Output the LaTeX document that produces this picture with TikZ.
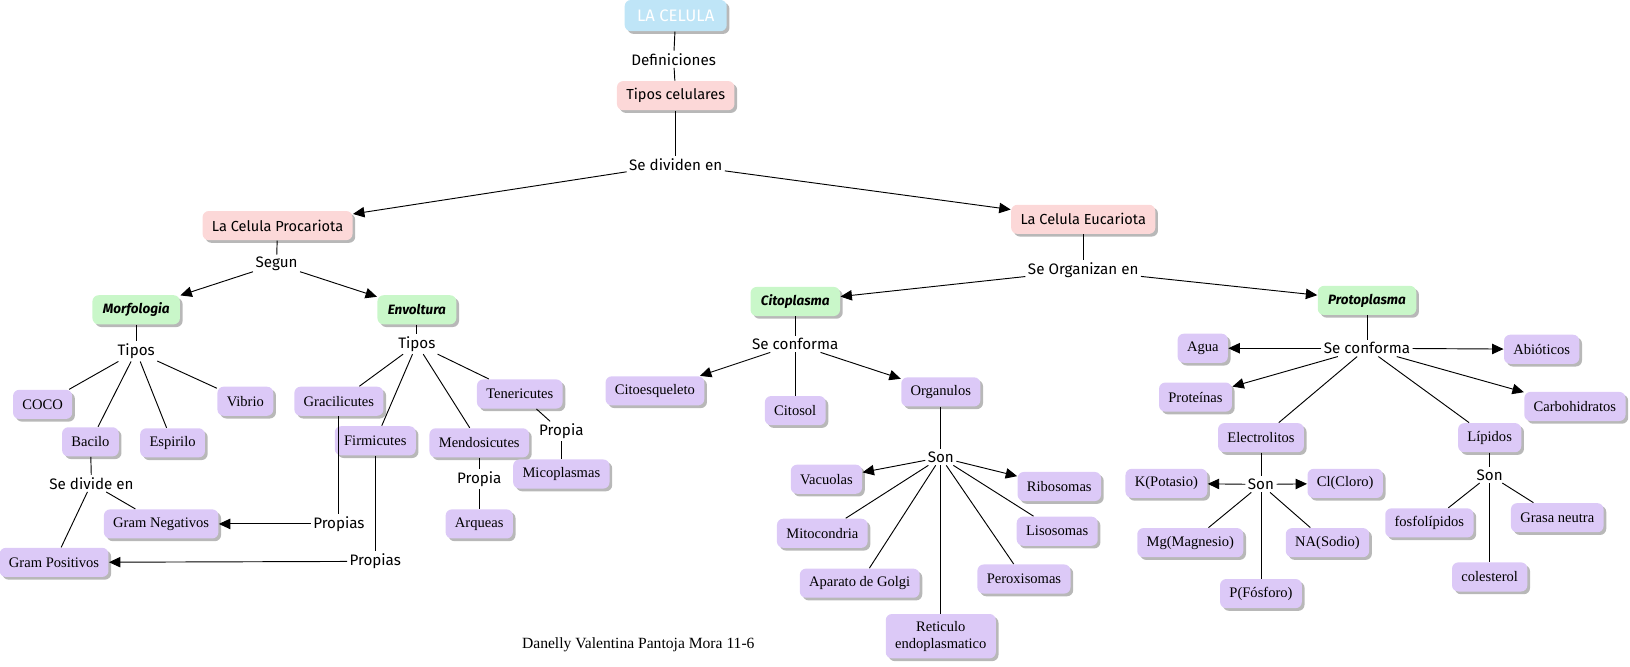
\documentclass[tikz,border=0pt]{standalone}
\usepackage{fontspec}
\setmainfont{Liberation Serif}
\newfontfamily\lblfont{Fira Sans}
\usetikzlibrary{shadows,arrows.meta}
\definecolor{cpurp}{HTML}{DCC9F7}
\definecolor{cpink}{HTML}{FCD8D8}
\definecolor{cgreen}{HTML}{C9F7C9}
\definecolor{cblue}{HTML}{BFE5F7}
\begin{document}
\begin{tikzpicture}[x=0.5pt,y=-0.5pt,
 box/.style={rounded corners=3pt,inner xsep=4.5pt,inner ysep=3.5pt,minimum height=14pt,font=\fontsize{7}{8}\selectfont,drop shadow={shadow xshift=1.3pt,shadow yshift=-1.3pt,fill=black!28,opacity=1}},
 c/.style={box,fill=cpurp,align=center},
 p/.style={box,fill=cpink,font=\lblfont\fontsize{7}{8}\selectfont},
 g/.style={box,fill=cgreen,inner xsep=5pt,font=\lblfont\bfseries\itshape\fontsize{6.5}{7}\selectfont},
 l/.style={inner sep=1pt,font=\lblfont\fontsize{7.3}{8}\selectfont},
 a/.style={-{Triangle[length=5.5pt,width=5pt]}},
 every path/.style={line width=0.45pt}]
\useasboundingbox (0,0) rectangle (1568,641);
\node[box,fill=cblue,text=white,minimum height=15pt,inner xsep=6pt,font=\lblfont\fontsize{8}{9}\selectfont] (cel) at (650,15) {LA CELULA};
\node[l] (def) at (648,57) {Definiciones};
\node[p] (tc) at (650,92) {Tipos celulares};
\node[l] (sd) at (650,158) {Se dividen en};
\node[p] (pro) at (267,217) {La Celula Procariota};
\node[p] (euc) at (1042,211) {La Celula Eucariota};
\draw (cel)--(def); \draw (def)--(tc); \draw (tc)--(sd);
\draw[a] (sd)--(pro); \draw[a] (sd)--(euc);
% procariota
\node[l] (seg) at (266,254) {Segun};
\node[g] (mor) at (131,298) {Morfologia};
\node[g] (env) at (401,298) {Envoltura};
\draw (pro)--(seg); \draw[a] (seg)--(mor); \draw[a] (seg)--(env);
\node[l] (t1) at (131,338) {Tipos};
\node[l] (t2) at (401,331) {Tipos};
\draw (mor)--(t1); \draw (env)--(t2);
\node[c] (coco) at (41,389) {COCO};
\node[c] (bac) at (87,425) {Bacilo};
\node[c] (esp) at (166,426) {Espirilo};
\node[c] (vib) at (236,386) {Vibrio};
\foreach \n in {coco,bac,esp,vib} \draw (t1)--(\n);
\node[l] (sde) at (88,465) {Se divide en};
\node[c] (gn) at (155,504) {Gram Negativos};
\node[c] (gp) at (52,541) {Gram Positivos};
\draw (bac)--(sde); \draw (sde)--(gn); \draw (sde)--(gp);
\node[c] (gra) at (326,386) {Gracilicutes};
\node[c] (fir) at (361,424) {Firmicutes};
\node[c] (men) at (461,426) {Mendosicutes};
\node[c] (ten) at (500,379) {Tenericutes};
\foreach \n in {gra,fir,men,ten} \draw (t2)--(\n);
\node[l] (pp1) at (540,415) {Propia};
\node[c] (mic) at (540,456) {Micoplasmas};
\draw (ten)--(pp1); \draw (pp1)--(mic);
\node[l] (pp2) at (461,461) {Propia};
\node[c] (arq) at (461,504) {Arqueas};
\draw (men)--(pp2); \draw (pp2)--(arq);
\node[l] (ps1) at (326,504) {Propias};
\node[l] (ps2) at (361,540) {Propias};
\draw (gra)--(ps1); \draw[a] (ps1)--(gn);
\draw (fir)--(ps2); \draw[a] (ps2)--(gp);
% eucariota
\node[l] (so) at (1042,260) {Se Organizan en};
\node[g] (cit) at (765,290) {Citoplasma};
\node[g] (prt) at (1315,289) {Protoplasma};
\draw (euc)--(so); \draw[a] (so)--(cit); \draw[a] (so)--(prt);
\node[l] (sc1) at (765,331) {Se conforma};
\draw (cit)--(sc1);
\node[c] (ces) at (630,376) {Citoesqueleto};
\node[c] (cts) at (765,395) {Citosol};
\node[c] (org) at (905,377) {Organulos};
\draw[a] (sc1)--(ces); \draw (sc1)--(cts); \draw[a] (sc1)--(org);
\node[l] (son1) at (905,440) {Son};
\draw (org)--(son1);
\node[c] (vac) at (795,461) {Vacuolas};
\node[c] (rib) at (1019,468) {Ribosomas};
\node[c] (mit) at (791,513) {Mitocondria};
\node[c] (lis) at (1017,511) {Lisosomas};
\node[c] (gol) at (827,561) {Aparato de Golgi};
\node[c] (per) at (985,557) {Peroxisomas};
\node[c] (ret) at (905,612) {Reticulo\\endoplasmatico};
\draw[a] (son1)--(vac); \draw[a] (son1)--(rib);
\foreach \n in {mit,lis,gol,per,ret} \draw (son1)--(\n);
\node[l] (sc2) at (1315,335) {Se conforma};
\draw (prt)--(sc2);
\node[c] (agu) at (1157,335) {Agua};
\node[c] (abi) at (1483,336) {Abióticos};
\node[c] (prot) at (1150,382) {Proteínas};
\node[c] (car) at (1515,391) {Carbohidratos};
\node[c] (ele) at (1213,421) {Electrolitos};
\node[c] (lip) at (1433,421) {Lípidos};
\foreach \n in {agu,abi,prot,car} \draw[a] (sc2)--(\n);
\draw (sc2)--(ele); \draw (sc2)--(lip);
\node[l] (son2) at (1213,466) {Son};
\draw (ele)--(son2);
\node[c] (kp) at (1122,465) {K(Potasio)};
\node[c] (cl) at (1294,465) {Cl(Cloro)};
\node[c] (mg) at (1145,522) {Mg(Magnesio)};
\node[c] (na) at (1277,522) {NA(Sodio)};
\node[c] (pf) at (1213,571) {P(Fósforo)};
\draw[a] (son2)--(kp); \draw[a] (son2)--(cl);
\foreach \n in {mg,na,pf} \draw (son2)--(\n);
\node[l] (son3) at (1433,457) {Son};
\draw (lip)--(son3);
\node[c] (fos) at (1375,503) {fosfolípidos};
\node[c] (gra2) at (1498,498) {Grasa neutra};
\node[c] (col) at (1433,555) {colesterol};
\foreach \n in {fos,gra2,col} \draw (son3)--(\n);
\node[font=\fontsize{7.5}{8}\selectfont] (aut) at (614,620) {Danelly Valentina Pantoja Mora 11-6};
\end{tikzpicture}
\end{document}
